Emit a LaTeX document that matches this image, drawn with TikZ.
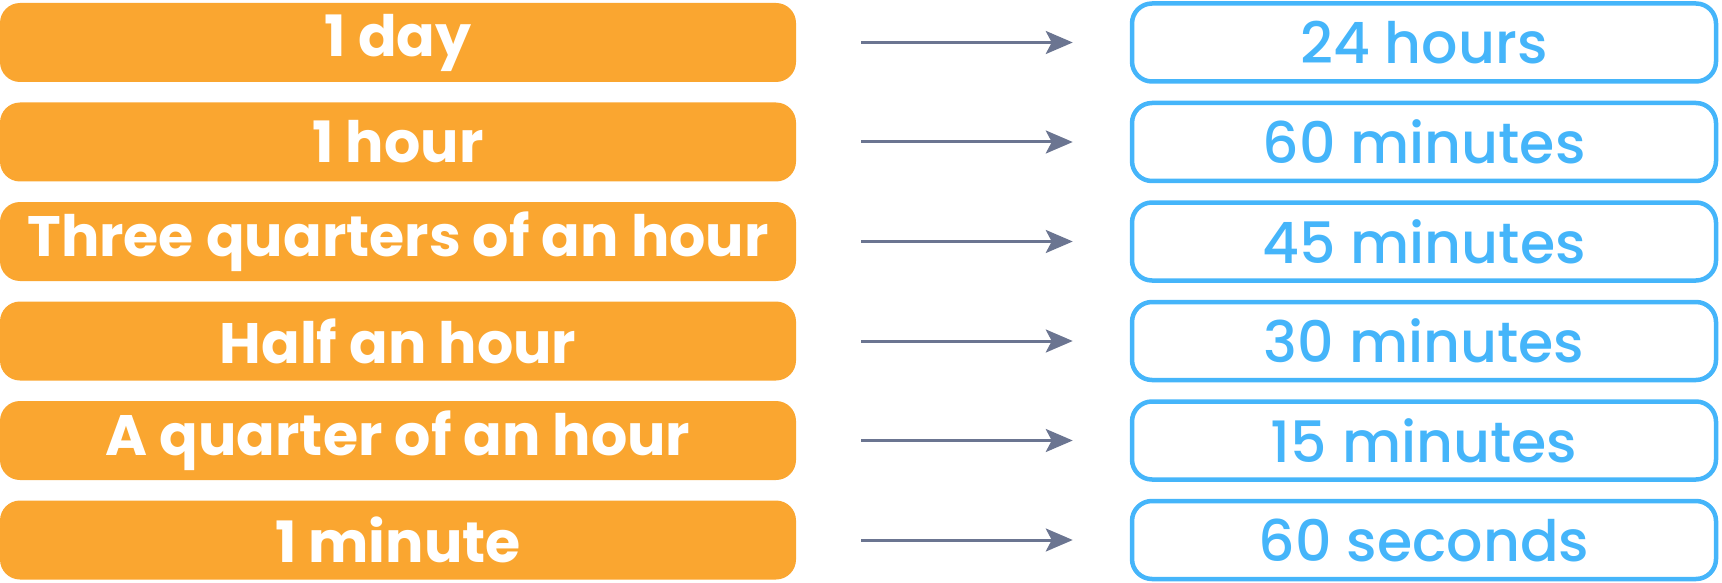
\documentclass[tikz,border=0pt]{standalone}
\usepackage{fontspec}
\setmainfont{Poppins}
\newfontfamily\medio{Poppins Medium}
\usetikzlibrary{arrows.meta}
\definecolor{naranja}{HTML}{FAA630}
\definecolor{azul}{HTML}{45B5FA}
\definecolor{gris}{HTML}{6B7591}
\tikzset{
  cajaizq/.style={fill=naranja, rounded corners=20pt, minimum width=796pt,
    minimum height=79pt, inner sep=0pt, text=white,
    font=\fontsize{57}{60}\selectfont\bfseries},
  cajader/.style={draw=azul, line width=4.5pt, rounded corners=20pt,
    minimum width=584pt, minimum height=78pt, inner sep=0pt, text=azul,
    font=\fontsize{57}{60}\selectfont\medio},
  flecha/.style={draw=gris, line width=3pt,
    -{Stealth[length=27pt, width=23pt, inset=6pt]},
    shorten <=65pt, shorten >=57pt}
}
\begin{document}
\begin{tikzpicture}[x=1pt, y=-1pt]
\useasboundingbox (0,0) rectangle (1722,583);

% Cajas de la izquierda y de la derecha, con su flecha
\foreach \i/\izq/\der in {0/1 day/24 hours, 1/1 hour/60 minutes,
    2/Three quarters of an hour/45 minutes, 3/Half an hour/30 minutes,
    4/A quarter of an hour/15 minutes, 5/1 minute/60 seconds}{
  \node[cajaizq] (izq\i) at (398, 42.5+99.5*\i) {\izq};
  \node[cajader] (der\i) at (1424, 42.5+99.5*\i) {\der};
  \draw[flecha] (izq\i.east) -- (der\i.west);
}
\end{tikzpicture}
\end{document}
